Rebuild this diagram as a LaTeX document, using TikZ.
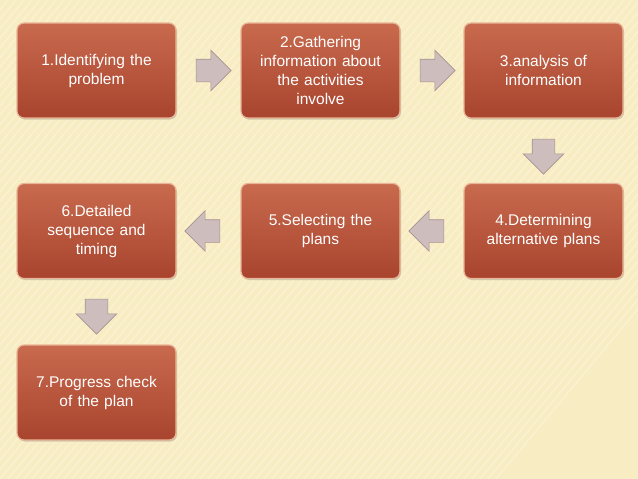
\documentclass[tikz,border=0pt]{standalone}
\usepackage{fontspec}
\setmainfont{Liberation Sans}
\usetikzlibrary{shapes.arrows,shadows}
\definecolor{bg}{HTML}{F8EDC2}
\definecolor{boxa}{HTML}{C86A4E}
\definecolor{boxb}{HTML}{A8442E}
\definecolor{edge}{HTML}{E9B596}
\definecolor{arr}{HTML}{CDBDBD}
\definecolor{arre}{HTML}{A89292}
\tikzset{
  stepbox/.style={draw=edge, line width=1.2pt, rounded corners=7pt, top color=boxa, bottom color=boxb,
    minimum width=159pt, minimum height=95pt, text width=150pt, align=center, text=white,
    font=\fontsize{15.5}{19}\selectfont, drop shadow={opacity=0.35,shadow xshift=1pt,shadow yshift=-1.5pt}},
  flow/.style={single arrow, draw=arre, fill=arr, line width=0.6pt, single arrow head extend=9pt,
    minimum height=35pt, inner xsep=0pt, inner ysep=11pt, single arrow tip angle=90}
}
\begin{document}
\begin{tikzpicture}[x=1pt,y=-1pt]
\useasboundingbox (0,0) rectangle (638,479);
\fill[bg] (0,0) rectangle (638,479);
\begin{scope}
\clip (0,0) rectangle (638,479);
\foreach \i in {0,8,...,900} \draw[white,opacity=0.25,line width=1.5pt] (\i-400,479) -- (\i,0);
\end{scope}
\node[stepbox] (b1) at (96.5,70.5) {1.Identifying the\\problem};
\node[stepbox] (b2) at (320.5,70.5) {2.Gathering\\information about\\the activities\\involve};
\node[stepbox] (b3) at (543.5,70.5) {3.analysis of\\information};
\node[stepbox] (b4) at (543.5,231) {4.Determining\\alternative plans};
\node[stepbox] (b5) at (320.5,231) {5.Selecting the\\plans};
\node[stepbox] (b6) at (96.5,231) {6.Detailed\\sequence and\\timing};
\node[stepbox] (b7) at (96.5,392.5) {7.Progress check\\of the plan};
\node[flow] (a1) at (208,70.5) {};
\node[flow] (a2) at (432,70.5) {};
\node[flow,rotate=-90] (a3) at (543.5,151) {};
\node[flow,rotate=180] (a4) at (432,231) {};
\node[flow,rotate=180] (a5) at (208,231) {};
\node[flow,rotate=-90] (a6) at (96.5,311) {};
\end{tikzpicture}
\end{document}
